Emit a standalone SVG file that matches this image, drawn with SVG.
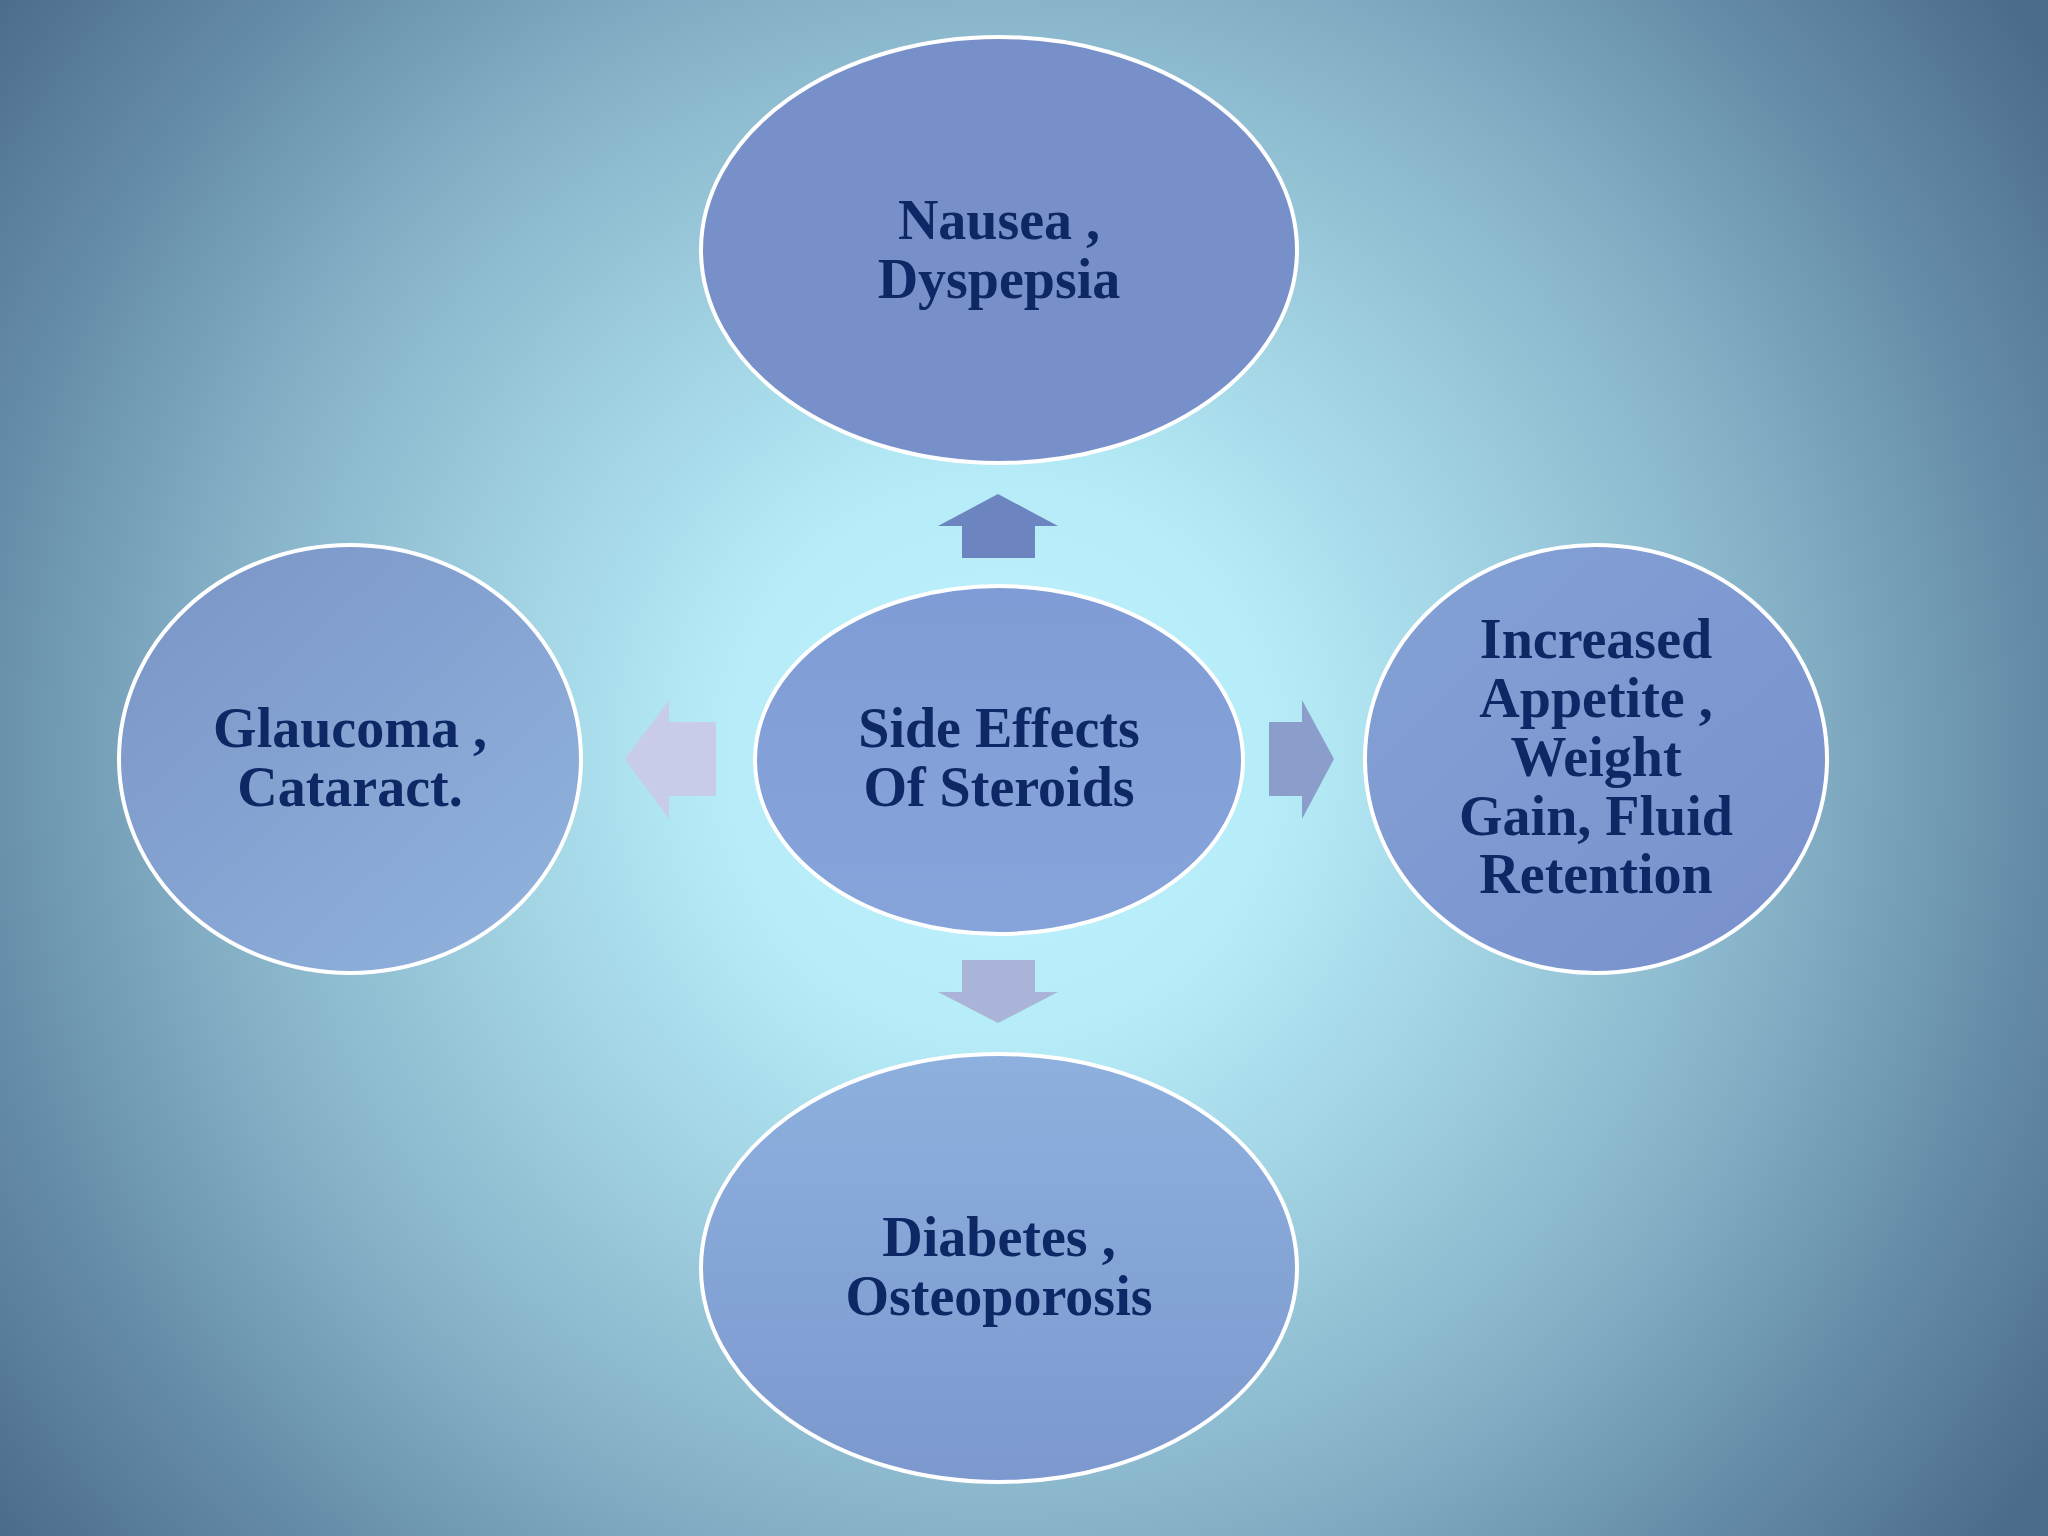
<svg xmlns="http://www.w3.org/2000/svg" width="2048" height="1536" viewBox="0 0 2048 1536">
<defs>
<radialGradient id="bg" gradientUnits="userSpaceOnUse" cx="1000" cy="760" r="1260">
<stop offset="0" stop-color="#BEF2FD"/>
<stop offset="0.22" stop-color="#B6ECF8"/>
<stop offset="0.42" stop-color="#9FD0E0"/>
<stop offset="0.62" stop-color="#86B2C8"/>
<stop offset="0.8" stop-color="#6890AA"/>
<stop offset="1" stop-color="#4C6C8C"/>
</radialGradient>
<linearGradient id="gLeft" x1="0" y1="0" x2="1" y2="1">
<stop offset="0" stop-color="#7994C6"/>
<stop offset="1" stop-color="#92B4DE"/>
</linearGradient>
<linearGradient id="gBottom" x1="0" y1="0" x2="0" y2="1">
<stop offset="0" stop-color="#8DB0DE"/>
<stop offset="1" stop-color="#7C98CE"/>
</linearGradient>
<linearGradient id="gCenter" x1="0" y1="0" x2="0" y2="1">
<stop offset="0" stop-color="#809CD6"/>
<stop offset="1" stop-color="#86A4DA"/>
</linearGradient>
<linearGradient id="gRight" x1="0" y1="0" x2="1" y2="1">
<stop offset="0" stop-color="#84A2D6"/>
<stop offset="1" stop-color="#7890CC"/>
</linearGradient>
<style>
.node ellipse{stroke:#FFFFFF;stroke-width:4}
.node text{font-family:"Liberation Serif","Times New Roman",serif;font-weight:bold;font-size:56px;fill:#0E2866;text-anchor:middle}
</style>
</defs>
<rect x="0" y="0" width="2048" height="1536" fill="url(#bg)"/>
<g id="connectors">
<polygon points="998,494 1058,526 1035,526 1035,558 962,558 962,526 938,526" fill="#6C84C0"/>
<polygon points="625,759 669,700 669,722 716,722 716,796 669,796 669,819" fill="#C8CCE8"/>
<polygon points="1334,759 1302,700 1302,722 1269,722 1269,796 1302,796 1302,819" fill="#8A9DCB"/>
<polygon points="998,1023 1058,992 1035,992 1035,960 962,960 962,992 938,992" fill="#A9B4D8"/>
</g>
<g id="node-top" class="node">
<ellipse cx="999" cy="250" rx="298" ry="213" fill="#7890C9"/>
<text x="999" y="239">Nausea ,</text>
<text x="999" y="298">Dyspepsia</text>
</g>
<g id="node-center" class="node">
<ellipse cx="999" cy="760" rx="244" ry="174" fill="url(#gCenter)"/>
<text x="999" y="747">Side Effects</text>
<text x="999" y="806">Of Steroids</text>
</g>
<g id="node-left" class="node">
<ellipse cx="350" cy="759" rx="231" ry="214" fill="url(#gLeft)"/>
<text x="350" y="747">Glaucoma ,</text>
<text x="350" y="806">Cataract.</text>
</g>
<g id="node-right" class="node">
<ellipse cx="1596" cy="759" rx="231" ry="214" fill="url(#gRight)"/>
<text x="1596" y="658">Increased</text>
<text x="1596" y="717">Appetite ,</text>
<text x="1596" y="776">Weight</text>
<text x="1596" y="835">Gain, Fluid</text>
<text x="1596" y="893">Retention</text>
</g>
<g id="node-bottom" class="node">
<ellipse cx="999" cy="1268" rx="298" ry="214" fill="url(#gBottom)"/>
<text x="999" y="1256">Diabetes ,</text>
<text x="999" y="1315">Osteoporosis</text>
</g>
</svg>
